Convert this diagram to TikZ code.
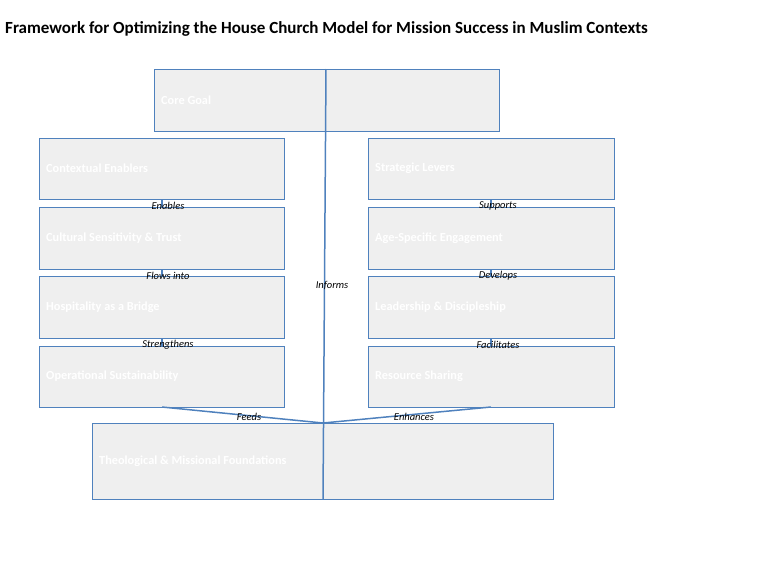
\documentclass[tikz,border=0pt]{standalone}
\usepackage{fontspec}
\setmainfont{Carlito}
\definecolor{bx}{HTML}{4F81BD}
\definecolor{fl}{HTML}{EFEFEF}
\begin{document}
\begin{tikzpicture}[x=1pt,y=-1pt,
  lbl/.style={font=\fontsize{10.5}{11}\selectfont\itshape,text=black,inner sep=0.5pt},
  con/.style={draw=bx,line width=1.5pt}]
\useasboundingbox (0,0) rectangle (768,576);
\node[anchor=west,font=\fontsize{17}{19}\selectfont\bfseries,inner sep=0pt] (title) at (5,29) {Framework for Optimizing the House Church Model for Mission Success in Muslim Contexts};
\newcommand{\bxx}[6]{\draw[bx,fill=fl,line width=1pt] (#1,#2) rectangle (#3,#4);
  \node[anchor=west,text=white,font=\fontsize{12.3}{13}\selectfont\bfseries,inner sep=0pt] (#5) at (#1+7,{(#2+#4)/2}) {#6};}
\bxx{154}{69}{499}{131}{core}{Core Goal}
\bxx{39}{138}{284}{199}{l1}{Contextual Enablers}
\bxx{39}{207}{284}{269}{l2}{Cultural Sensitivity \& Trust}
\bxx{39}{276}{284}{338}{l3}{Hospitality as a Bridge}
\bxx{39}{346}{284}{407}{l4}{Operational Sustainability}
\bxx{368}{138}{614}{199}{r1}{Strategic Levers}
\bxx{368}{207}{614}{269}{r2}{Age-Specific Engagement}
\bxx{368}{276}{614}{338}{r3}{Leadership \& Discipleship}
\bxx{368}{346}{614}{407}{r4}{Resource Sharing}
\bxx{92}{423}{553}{499}{base}{Theological \& Missional Foundations}
\coordinate (ct) at (326,69);
\coordinate (cb) at (323,499);
\coordinate (hub) at (323,423);
\draw[con] (ct) -- (cb);
\node[lbl] (inf) at (332,286) {Informs};
\foreach \a/\b/\t in {199/207/Enables,269/276/Flows into,338/346/Strengthens}{
  \draw[con] (162,\a) -- (162,\b);
  \node[lbl] at (168,{(\a+\b)/2+3}) {\t};}
\foreach \a/\b/\t in {199/207/Supports,269/276/Develops,338/346/Facilitates}{
  \draw[con] (491,\a) -- (491,\b);
  \node[lbl] at (498,{(\a+\b)/2+3}) {\t};}
\draw[con] (162,407) -- (hub);
\draw[con] (491,407) -- (hub);
\node[lbl] (fd) at (249,417) {Feeds};
\node[lbl] (en) at (414,417) {Enhances};
\end{tikzpicture}
\end{document}
